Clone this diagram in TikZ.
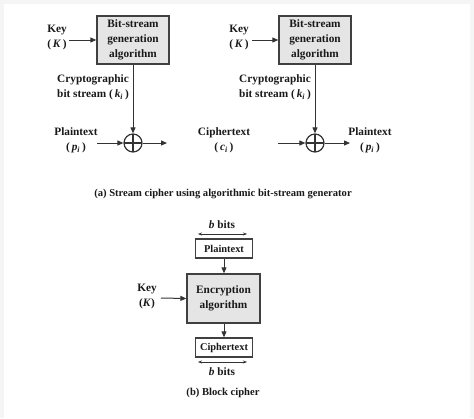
\documentclass[tikz,border=0pt]{standalone}
\usepackage{fontspec}
\setmainfont{Liberation Serif}
\usetikzlibrary{arrows.meta}
\newcommand{\subv}[2]{\textit{#1}\textsubscript{\textit{#2}}}
\begin{document}
\begin{tikzpicture}[x=1pt,y=-1pt,
  every node/.style={font=\bfseries\fontsize{11.3}{15}\selectfont, text=black!90, align=center, inner sep=0pt},
  capt/.style={font=\bfseries\fontsize{10.6}{15}\selectfont},
  gbox/.style={draw=black!75, line width=1.3pt, fill=black!10, minimum width=72pt, minimum height=48pt},
  ebox/.style={draw=black!75, line width=1.3pt, fill=black!10, minimum width=73pt, minimum height=49pt},
  wbox/.style={draw=black!75, line width=1.3pt, fill=white, minimum width=57pt, minimum height=19pt,
    font=\bfseries\fontsize{10.4}{15}\selectfont},
  arr/.style={-{Triangle[length=6pt,width=5pt]}, line width=1pt, draw=black!80},
  xor/.style={circle, draw=black!80, line width=1.2pt, minimum size=18pt,
    path picture={\draw[line width=1.2pt,black!80] (path picture bounding box.north) -- (path picture bounding box.south)
      (path picture bounding box.west) -- (path picture bounding box.east);}},
  dimarr/.style={{Stealth[length=4pt,width=3pt]}-{Stealth[length=4pt,width=3pt]}, line width=0.5pt, draw=black!80}]
\useasboundingbox (0,0) rectangle (474,418);
\fill[black!4] (0,0) rectangle (474,4);
\fill[black!4] (0,0) rectangle (4,418);
\fill[black!4] (470,0) rectangle (474,418);

% (a) left half
\node[gbox] (bsg1) at (133,40) {Bit-stream\\generation\\algorithm};
\node (key1) at (57,37.5) {Key\\(\,\textit{K}\,)};
\node (cb1) at (93,87.5) {Cryptographic\\bit stream (\,\subv{k}{i}\,)};
\node[xor] (x1) at (133,143) {};
\node (pt1) at (76,140.5) {Plaintext\\(\,\subv{p}{i}\,)};
\coordinate (k1s) at (69,40);
\coordinate (p1s) at (97,143);
\coordinate (o1) at (167,143);
\draw[arr] (k1s) -- (bsg1.west);
\draw[arr] (bsg1.south) -- (x1.north);
\draw[arr] (p1s) -- (x1.west);
\draw[arr] (x1.east) -- (o1);

% (a) right half
\node[gbox] (bsg2) at (315,40) {Bit-stream\\generation\\algorithm};
\node (key2) at (239,37.5) {Key\\(\,\textit{K}\,)};
\node (cb2) at (275,87.5) {Cryptographic\\bit stream (\,\subv{k}{i}\,)};
\node[xor] (x2) at (315,143) {};
\node (ct2) at (224,140.5) {Ciphertext\\(\,\subv{c}{i}\,)};
\node (pt2) at (370,140.5) {Plaintext\\(\,\subv{p}{i}\,)};
\coordinate (k2s) at (252,40);
\coordinate (c2s) at (278,143);
\coordinate (o2) at (350,143);
\draw[arr] (k2s) -- (bsg2.west);
\draw[arr] (bsg2.south) -- (x2.north);
\draw[arr] (c2s) -- (x2.west);
\draw[arr] (x2.east) -- (o2);

\node[capt] (capa) at (223,194) {(a) Stream cipher using algorithmic bit-stream generator};

% (b) block cipher
\node (bb1) at (222,225) {\textit{b} bits};
\coordinate (d1a) at (198,234);
\coordinate (d1b) at (247,234);
\draw[dimarr] (d1a) -- (d1b);
\node[wbox] (ptb) at (224,248.5) {Plaintext};
\node[ebox] (enc) at (223.5,298.5) {Encryption\\algorithm};
\node[wbox] (ctb) at (224,347.5) {Ciphertext};
\coordinate (d2a) at (198,362);
\coordinate (d2b) at (247,362);
\draw[dimarr] (d2a) -- (d2b);
\node (bb2) at (222,372) {\textit{b} bits};
\node (keyb) at (147,296.5) {Key\\(\textit{K})};
\coordinate (kbs) at (161,298);
\draw[arr] (kbs) -- (enc.west);
\draw[arr] (ptb.south) -- (enc.north -| ptb.south);
\draw[arr] (enc.south -| ctb.north) -- (ctb.north);
\node[capt] (capb) at (223,393) {(b) Block cipher};
\end{tikzpicture}
\end{document}
